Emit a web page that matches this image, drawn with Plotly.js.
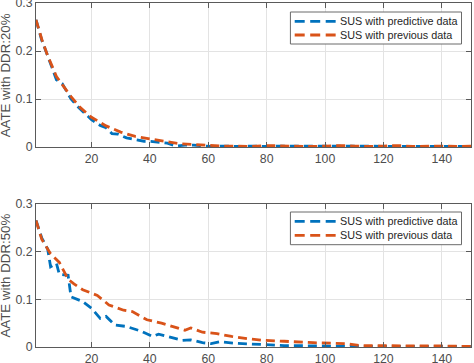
<!DOCTYPE html>
<html>
<head>
<meta charset="utf-8">
<script src="https://cdn.plot.ly/plotly-3.0.1.min.js"></script>
<style>html,body{margin:0;padding:0;background:#fff;}#chart{width:474px;height:363px;}</style>
</head>
<body>
<div id="chart"></div>
<script>
// ---- data ----
var seriesNames = ["SUS with predictive data", "SUS with previous data"];
var yTitles = ["AATE with DDR:20%", "AATE with DDR:50%"];
var xTickVals = [20, 40, 60, 80, 100, 120, 140];
var yTickVals = [0, 0.1, 0.2, 0.3];
var yTickText = ["0", "0.1", "0.2", "0.3"];

// DDR 20% (top panel)
var topPredX = [1, 3, 5, 8, 10, 13, 15, 18, 20, 23, 25, 27, 29, 32, 35, 38, 40, 43, 46, 49, 52, 55, 58, 61, 65, 70, 75, 80, 85, 90, 95, 100, 105, 110, 115, 120, 125, 130, 135, 140, 145, 150];
var topPredY = [0.265, 0.222, 0.19, 0.14, 0.132, 0.1, 0.086, 0.068, 0.057, 0.045, 0.04, 0.028, 0.027, 0.019, 0.016, 0.012, 0.012, 0.01, 0.008, 0.002, 0.004, 0.004, 0.002, 0.001, 0.002, 0.001, 0.002, 0.001, 0.002, 0.002, 0.001, 0.002, 0.001, 0.002, 0.001, 0.002, 0.001, 0.002, 0.001, 0.002, 0.001, 0.001];
var topPrevX = [1, 3, 5, 8, 10, 13, 16, 20, 25, 30, 35, 40, 45, 50, 55, 60, 65, 70, 75, 80, 85, 90, 95, 100, 105, 110, 115, 120, 125, 130, 135, 140, 145, 150];
var topPrevY = [0.265, 0.224, 0.19, 0.147, 0.13, 0.105, 0.083, 0.062, 0.044, 0.031, 0.022, 0.017, 0.012, 0.007, 0.005, 0.003, 0.002, 0.002, 0.001, 0.003, 0.002, 0.002, 0.001, 0.002, 0.003, 0.002, 0.001, 0.002, 0.003, 0.001, 0.002, 0.002, 0.001, 0.002];

// DDR 50% (bottom panel)
var botPredX = [1, 3, 5, 6, 8, 9, 12, 13, 17, 20, 23, 25, 28, 32, 37, 41, 43, 47, 51, 54, 58, 61, 64, 69, 74, 79, 86, 90, 96, 102, 108, 114, 120, 126, 132, 138, 144, 150];
var botPredY = [0.265, 0.228, 0.205, 0.168, 0.175, 0.152, 0.15, 0.105, 0.095, 0.081, 0.06, 0.064, 0.046, 0.043, 0.033, 0.022, 0.027, 0.021, 0.014, 0.015, 0.009, 0.007, 0.011, 0.008, 0.006, 0.005, 0.003, 0.003, 0.002, 0.002, 0.001, 0.001, 0.001, 0.001, 0.001, 0.001, 0.001, 0.001];
var botPrevX = [1, 3, 6, 9, 12, 14, 17, 20, 22, 26, 31, 34, 39, 44, 49, 52, 54, 58, 63, 68, 74, 79, 86, 91, 96, 102, 107, 112, 118, 124, 130, 136, 142, 150];
var botPrevY = [0.265, 0.225, 0.195, 0.177, 0.142, 0.132, 0.12, 0.112, 0.108, 0.088, 0.077, 0.074, 0.057, 0.05, 0.04, 0.035, 0.04, 0.031, 0.028, 0.022, 0.017, 0.014, 0.012, 0.01, 0.009, 0.008, 0.007, 0.003, 0.003, 0.002, 0.002, 0.002, 0.002, 0.001];

// ---- styling ----
var blue = "#0072BD", orange = "#D95319";
var colors = [blue, orange];
var lineW = 2.8, dashPat = "9px,5px";
var axisCol = "#5a5a5a", textCol = "#4d4d4d", gridCol = "#e3e3e3";
var font = "Liberation Sans, Arial, sans-serif";

// figure geometry (pixels)
var W = 474, H = 363, mL = 36, mR = 2.5, mT = 3.3, mB = 15.7;
var pw = W - mL - mR, ph = H - mT - mB;
function px2x(p) { return (p - mL) / pw; }
function py2y(p) { return (H - mB - p) / ph; }

function tr(x, y, name, color, xa, ya) {
  return {x: x, y: y, name: name, type: "scatter", mode: "lines",
    line: {color: color, width: lineW, dash: dashPat},
    xaxis: xa, yaxis: ya, showlegend: false};
}

var data = [
  tr(topPredX, topPredY, seriesNames[0], blue, "x", "y"),
  tr(topPrevX, topPrevY, seriesNames[1], orange, "x", "y"),
  tr(botPredX, botPredY, seriesNames[0], blue, "x2", "y2"),
  tr(botPrevX, botPrevY, seriesNames[1], orange, "x2", "y2")
];

function xax(anchor) {
  return {anchor: anchor, range: [1, 150], tickvals: xTickVals, ticks: "inside", ticklen: 5,
    tickcolor: axisCol, showline: true, linecolor: axisCol, linewidth: 1, mirror: "ticks",
    showgrid: true, gridcolor: gridCol, zeroline: false, ticklabeloverflow: "allow",
    tickfont: {size: 12.3, color: textCol, family: font}};
}
function yax(anchor, dom) {
  return {anchor: anchor, domain: dom, range: [0, 0.3], tickvals: yTickVals, ticktext: yTickText,
    ticks: "inside", ticklen: 5, tickcolor: axisCol, showline: true, linecolor: axisCol, linewidth: 1,
    mirror: "ticks", showgrid: true, gridcolor: gridCol, zeroline: false, ticklabeloverflow: "allow",
    tickfont: {size: 12.3, color: textCol, family: font}};
}

// custom legend boxes (MATLAB-style compact legend)
var shapes = [], annotations = [];
function addLegend(top, bottom, rowYs) {
  shapes.push({type: "rect", xref: "paper", yref: "paper",
    x0: px2x(290.7), x1: px2x(462), y0: py2y(bottom), y1: py2y(top),
    fillcolor: "#fff", line: {color: "#6a6a6a", width: 1}, layer: "above"});
  for (var i = 0; i < seriesNames.length; i++) {
    shapes.push({type: "line", xref: "paper", yref: "paper",
      x0: px2x(295), x1: px2x(336), y0: py2y(rowYs[i]), y1: py2y(rowYs[i]),
      line: {color: colors[i], width: lineW, dash: "10px,5.5px"}, layer: "above"});
    annotations.push({text: seriesNames[i], xref: "paper", yref: "paper",
      x: px2x(338), y: py2y(rowYs[i]), xanchor: "left", yanchor: "middle", showarrow: false,
      font: {size: 10.8, color: "#262626", family: font}});
  }
}
addLegend(12.3, 44.3, [21.7, 35.3]);
addLegend(212.3, 245, [221.7, 235.7]);

annotations.push(
  {text: yTitles[0], xref: "paper", yref: "paper", x: -0.071, y: 0.79, textangle: -90,
   showarrow: false, xanchor: "center", yanchor: "middle", font: {size: 13.3, color: textCol, family: font}},
  {text: yTitles[1], xref: "paper", yref: "paper", x: -0.071, y: 0.208, textangle: -90,
   showarrow: false, xanchor: "center", yanchor: "middle", font: {size: 13.3, color: textCol, family: font}}
);

var layout = {
  width: W, height: H,
  margin: {l: mL, r: mR, t: mT, b: mB},
  paper_bgcolor: "#fff", plot_bgcolor: "#fff",
  font: {family: font, color: textCol},
  xaxis: xax("y"),
  yaxis: yax("x", [0.5814, 1]),
  xaxis2: xax("y2"),
  yaxis2: yax("x2", [0, 0.4166]),
  shapes: shapes,
  annotations: annotations,
  showlegend: false
};

Plotly.newPlot("chart", data, layout, {displayModeBar: false, staticPlot: true});
</script>
</body>
</html>
